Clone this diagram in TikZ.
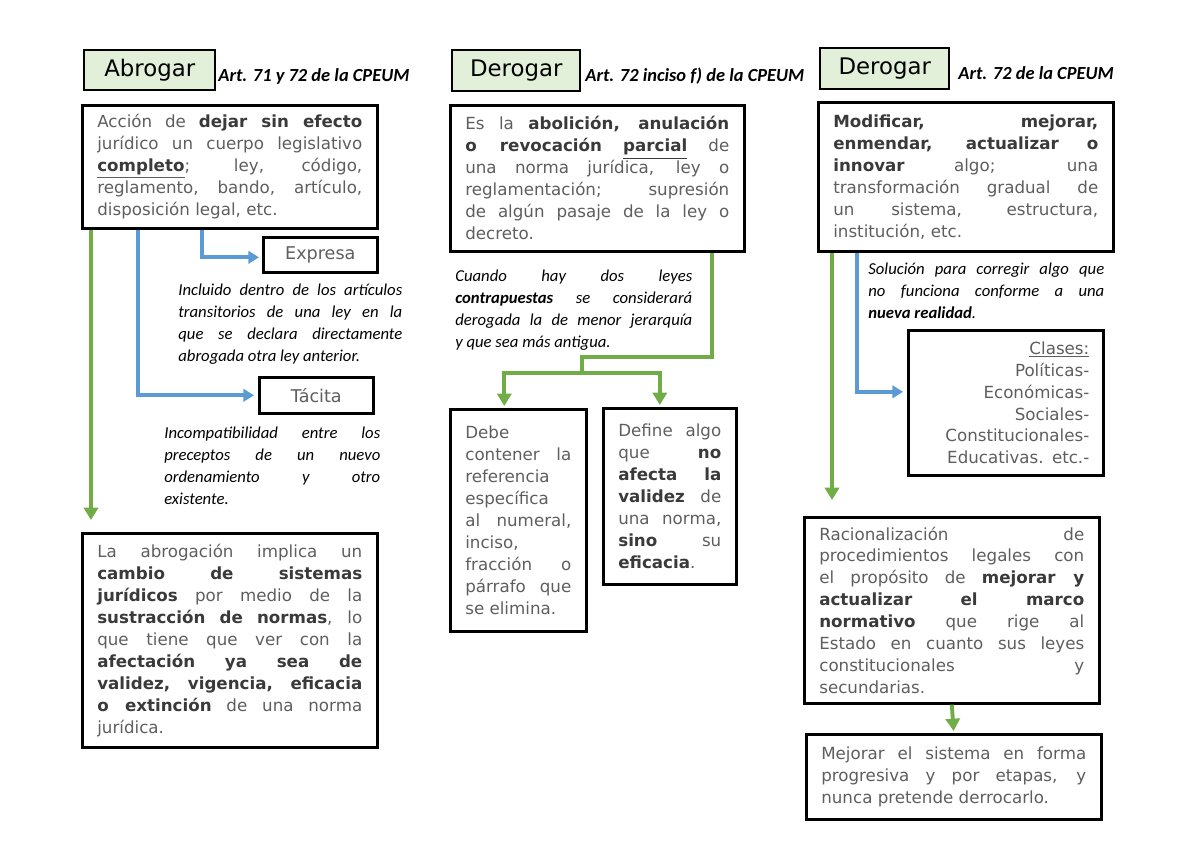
\documentclass[tikz,border=0pt]{standalone}
\usepackage{fontspec}
\setmainfont{DejaVu Sans}
\newfontfamily\notafont{Carlito}
\usepackage{tikz}
\usetikzlibrary{shapes,positioning,calc}
\usetikzlibrary{arrows.meta}
\definecolor{verde}{HTML}{70AD47}
\definecolor{azul}{HTML}{5B9BD5}
\definecolor{verdeclaro}{HTML}{E2EFD9}
\definecolor{gristexto}{HTML}{5E5E5E}
\definecolor{grisfuerte}{HTML}{3A3A3A}
\newcommand{\resalta}[1]{\textbf{\color{grisfuerte}#1}}
\tikzstyle{titulo} = [rectangle, anchor=north west, draw=black, line width=1.4pt, fill=verdeclaro, text=black, font=\fontsize{13}{15}\selectfont]
\tikzstyle{articulo} = [anchor=base west, inner sep=0pt, font=\notafont\bfseries\itshape\fontsize{10.5}{12}\selectfont]
\tikzstyle{caja} = [rectangle, anchor=north west, draw=black, line width=1.5pt, align=justify, inner xsep=0.3cm, text=gristexto, font=\fontsize{9.5}{12.5}\selectfont]
\tikzstyle{etiqueta} = [rectangle, anchor=north west, draw=black, line width=1.5pt, text=gristexto, font=\fontsize{10}{12}\selectfont]
\tikzstyle{nota} = [anchor=north west, inner sep=0pt, align=justify, font=\notafont\itshape\fontsize{9.5}{12.5}\selectfont]
\tikzstyle{flechaverde} = [line width=2.2pt, draw=verde, -{Triangle[width=8pt,length=7pt]}]
\tikzstyle{lineaverde} = [line width=2.2pt, draw=verde]
\tikzstyle{flechaazul} = [line width=2.2pt, draw=azul, -{Triangle[width=7pt,length=6pt]}]

\begin{document}
\begin{tikzpicture}[x=0.02cm, y=-0.02cm]
\useasboundingbox (0,0) rectangle (1200,846);
				\node (abrogar) at (83,49) [titulo, minimum width=2.62cm, minimum height=0.8cm] {Abrogar};
				\node (art1) at (218,81) [articulo] {Art. 71 y 72 de la CPEUM};
				\node (def1) at (81,104) [caja, text width=5.3cm, minimum height=2.46cm] {Acción de \resalta{dejar sin efecto}\linebreak jurídico un cuerpo legislativo\linebreak \underline{\resalta{completo}}; ley, código,\linebreak reglamento, bando, artículo,\linebreak disposición legal, etc.};
				\node (expresa) at (262,236) [etiqueta, minimum width=2.28cm, minimum height=0.7cm] {Expresa};
				\node (nota1) at (178,284) [nota, text width=4.48cm] {Incluido dentro de los artículos\linebreak transitorios de una ley en la\linebreak que se declara directamente\linebreak abrogada otra ley anterior.};
				\node (tacita) at (258,376) [etiqueta, minimum width=2.28cm, minimum height=0.72cm] {Tácita};
				\node (nota2) at (164,427) [nota, text width=4.32cm] {Incompatibilidad entre los\linebreak preceptos de un nuevo\linebreak ordenamiento y otro\linebreak existente.};
				\node (res1) at (81,532) [caja, text width=5.3cm, minimum height=4.28cm] {La abrogación implica un\linebreak \resalta{cambio de sistemas\linebreak jurídicos} por medio de la\linebreak \resalta{sustracción de normas}, lo\linebreak que tiene que ver con la\linebreak \resalta{afectación ya sea de\linebreak validez, vigencia, eficacia\linebreak o extinción} de una norma\linebreak jurídica.};

				\node (derogar1) at (451,49) [titulo, minimum width=2.56cm, minimum height=0.82cm] {Derogar};
				\node (art2) at (585,81) [articulo] {Art. 72 inciso f) de la CPEUM};
				\node (def2) at (449,104) [caja, text width=5.28cm, minimum height=2.92cm] {Es la \resalta{abolición, anulación\linebreak o revocación} \resalta{\underline{parcial}} de\linebreak una norma jurídica, ley o\linebreak reglamentación; supresión\linebreak de algún pasaje de la ley o\linebreak decreto.};
				\node (nota3) at (455,270) [nota, text width=4.74cm] {Cuando hay dos leyes\linebreak \textbf{contrapuestas} se considerará\linebreak derogada la de menor jerarquía\linebreak y que sea más antigua.};
				\node (debe) at (449,408) [caja, text width=2.12cm, minimum height=4.44cm] {Debe\linebreak contener la\linebreak referencia\linebreak específica\linebreak al numeral,\linebreak inciso,\linebreak fracción o\linebreak párrafo que\linebreak se elimina.};
				\node (define) at (602,407) [caja, text width=2.06cm, minimum height=3.52cm] {Define algo\linebreak que \resalta{no\linebreak afecta la\linebreak validez} de\linebreak una norma,\linebreak \resalta{sino} su\linebreak \resalta{eficacia}.};

				\node (derogar2) at (819,47) [titulo, minimum width=2.58cm, minimum height=0.82cm] {Derogar};
				\node (art3) at (958,79) [articulo] {Art. 72 de la CPEUM};
				\node (def3) at (817,101) [caja, text width=5.3cm, minimum height=2.98cm] {\resalta{Modificar, mejorar,\linebreak enmendar, actualizar o\linebreak innovar} algo; una\linebreak transformación gradual de\linebreak un sistema, estructura,\linebreak institución, etc.};
				\node (nota4) at (868,263) [nota, text width=4.72cm] {Solución para corregir algo que\linebreak no funciona conforme a una\linebreak \textbf{nueva realidad}.};
				\node (clases) at (907,329) [caja, align=right, text width=3.34cm, inner xsep=0.28cm, minimum height=2.9cm] {\underline{Clases:}\\ Políticas-\\ Económicas-\\ Sociales-\\ Constitucionales-\\ Educativas. etc.-};
				\node (rac) at (803,516) [caja, text width=5.3cm, minimum height=3.72cm] {Racionalización de\linebreak procedimientos legales con\linebreak el propósito de \resalta{mejorar y\linebreak actualizar el marco\linebreak normativo} que rige al\linebreak Estado en cuanto sus leyes\linebreak constitucionales y\linebreak secundarias.};
				\node (mejora) at (805,733) [caja, text width=5.3cm, minimum height=1.7cm] {Mejorar el sistema en forma\linebreak progresiva y por etapas, y\linebreak nunca pretende derrocarlo.};

				\draw[flechaverde, shorten >=0.24cm] ([xshift=0.2cm]def1.south west) -- ([xshift=0.2cm]res1.north west);
				\draw[flechaazul, shorten >=0.06cm] ([xshift=2.42cm]def1.south west) |- ([yshift=-0.05cm]expresa.west);
				\draw[flechaazul, shorten >=0.08cm] ([xshift=1.14cm]def1.south west) |- (tacita.west);

				\coordinate (cruce) at (582,357);
				\coordinate (rama) at (582,373);
				\draw[lineaverde] ([xshift=-0.68cm]def2.south east) |- (cruce) -- (rama);
				\draw[flechaverde, shorten >=0.04cm] (rama) -| ([xshift=-0.28cm]debe.north);
				\draw[flechaverde, shorten >=0.04cm] (rama) -| ([xshift=-0.2cm]define.north);

				\draw[flechaverde, shorten >=0.32cm] ([xshift=0.3cm]def3.south west) -- ([xshift=0.3cm]def3.south west |- rac.north);
				\draw[flechaazul, shorten >=0.08cm] ([xshift=0.8cm]def3.south west) |- ([yshift=0.22cm]clases.west);
				\draw[flechaverde, shorten >=0.04cm] (rac.south) -- (mejora.north);
\end{tikzpicture}
\end{document}
